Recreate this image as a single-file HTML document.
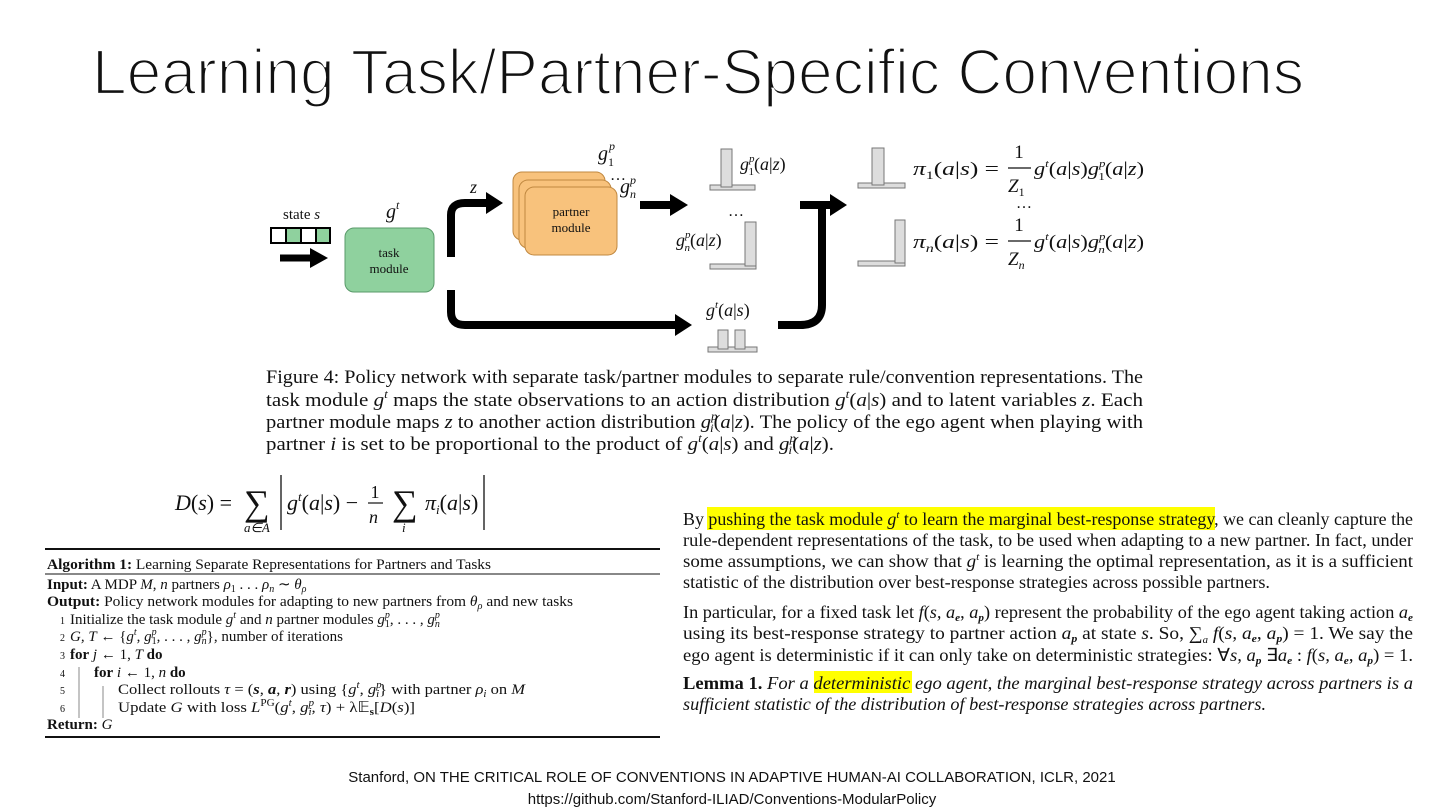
<!DOCTYPE html>
<html><head><meta charset="utf-8"><style>
html,body{margin:0;padding:0;background:#fff;}
svg{display:block}
.s{font-family:"Liberation Serif",serif;fill:#111}
.f{font-family:"Liberation Sans",sans-serif;fill:#111}
</style></head><body>
<svg width="1440" height="809" viewBox="0 0 1440 809" xmlns="http://www.w3.org/2000/svg">
<rect width="1440" height="809" fill="#fff"/>
<text x="92" y="94" class="f" font-size="64" textLength="1212" lengthAdjust="spacingAndGlyphs" fill="#000" stroke="#fff" stroke-width="2.2">Learning Task/Partner-Specific Conventions</text>

<!-- diagram -->
<text x="283" y="219" class="s" font-size="15">state <tspan font-style="italic">s</tspan></text>
<g stroke="#000" stroke-width="2">
<rect x="271" y="228" width="15" height="15" fill="#fff"/>
<rect x="286" y="228" width="15" height="15" fill="#8fd19e"/>
<rect x="301" y="228" width="15" height="15" fill="#fff"/>
<rect x="316" y="228" width="14" height="15" fill="#8fd19e"/>
</g>
<path d="M280 258 H312" stroke="#000" stroke-width="7"/>
<path d="M310 248 L328 258 L310 268 Z" fill="#000"/>
<text x="386" y="218" class="s" font-size="20" font-style="italic">g<tspan font-size="12" dy="-9">t</tspan></text>
<rect x="345" y="228" width="89" height="64" rx="9" fill="#8fd19e" stroke="#5a9a6a"/>
<text x="389" y="257" class="s" font-size="13" text-anchor="middle">task</text>
<text x="389" y="273" class="s" font-size="13" text-anchor="middle">module</text>

<path d="M451 257 V215 Q451 203 465 203 H488" fill="none" stroke="#000" stroke-width="8"/>
<path d="M486 192 L503 203 L486 214 Z" fill="#000"/>
<text x="470" y="193" class="s" font-size="18" font-style="italic">z</text>
<path d="M451 290 V312 Q451 325 465 325 H678" fill="none" stroke="#000" stroke-width="8"/>
<path d="M675 314 L692 325 L675 336 Z" fill="#000"/>

<g stroke="#c08840" stroke-width="1">
<rect x="513" y="172" width="92" height="68" rx="9" fill="#f8c27c"/>
<rect x="519" y="180" width="92" height="68" rx="9" fill="#f8c27c"/>
<rect x="525" y="187" width="92" height="68" rx="9" fill="#f8c27c"/>
</g>
<text x="571" y="216" class="s" font-size="13" text-anchor="middle">partner</text>
<text x="571" y="232" class="s" font-size="13" text-anchor="middle">module</text>
<text x="598" y="160" class="s" font-size="20" font-style="italic">g</text>
<text x="609" y="150" class="s" font-size="12" font-style="italic">p</text>
<text x="608" y="166" class="s" font-size="12">1</text>
<text x="610" y="180" class="s" font-size="16">…</text>
<text x="620" y="193" class="s" font-size="20" font-style="italic">g</text>
<text x="630" y="184" class="s" font-size="12" font-style="italic">p</text>
<text x="630" y="198" class="s" font-size="12" font-style="italic">n</text>
<path d="M640 205 H672" stroke="#000" stroke-width="8"/>
<path d="M670 194 L688 205 L670 216 Z" fill="#000"/>

<g fill="#ddd" stroke="#777" stroke-width="1">
<rect x="710" y="185" width="45" height="5"/><rect x="721" y="149" width="11" height="38"/>
<rect x="710" y="264" width="46" height="5"/><rect x="745" y="222" width="11" height="44"/>
<rect x="708" y="347" width="49" height="5"/><rect x="718" y="330" width="10" height="19"/><rect x="735" y="330" width="10" height="19"/>
<rect x="858" y="183" width="47" height="5"/><rect x="872" y="148" width="12" height="37"/>
<rect x="858" y="261" width="47" height="5"/><rect x="895" y="220" width="10" height="43"/>
</g>
<text x="740" y="170" class="s" font-size="18" font-style="italic">g<tspan font-size="11" dy="-8">p</tspan><tspan font-size="11" dy="13" dx="-6" font-style="normal">1</tspan><tspan dy="-5" font-style="normal">(</tspan>a<tspan font-style="normal">|</tspan>z<tspan font-style="normal">)</tspan></text>
<text x="728" y="216" class="s" font-size="16">…</text>
<text x="676" y="246" class="s" font-size="18" font-style="italic">g<tspan font-size="11" dy="-8">p</tspan><tspan font-size="11" dy="13" dx="-6">n</tspan><tspan dy="-5" font-style="normal">(</tspan>a<tspan font-style="normal">|</tspan>z<tspan font-style="normal">)</tspan></text>
<text x="706" y="316" class="s" font-size="18" font-style="italic">g<tspan font-size="11" dy="-8">t</tspan><tspan dy="8" font-style="normal">(</tspan>a<tspan font-style="normal">|</tspan>s<tspan font-style="normal">)</tspan></text>

<path d="M778 325 H800 Q822 325 822 305 V205" fill="none" stroke="#000" stroke-width="8"/>
<path d="M800 205 H832" stroke="#000" stroke-width="8"/>
<path d="M830 194 L847 205 L830 216 Z" fill="#000"/>

<g class="s" font-size="19">
<text x="913" y="175" textLength="86" lengthAdjust="spacingAndGlyphs"><tspan font-style="italic">π</tspan><tspan font-size="12" dy="4">1</tspan><tspan dy="-4">(</tspan><tspan font-style="italic">a</tspan>|<tspan font-style="italic">s</tspan>) =</text>
<text x="1019" y="158" text-anchor="middle">1</text>
<line x1="1008" y1="168" x2="1031" y2="168" stroke="#111" stroke-width="1.2"/>
<text x="1008" y="192" font-style="italic">Z<tspan font-size="12" dy="4" font-style="normal">1</tspan></text>
<text x="1034" y="175" textLength="110" lengthAdjust="spacingAndGlyphs"><tspan font-style="italic">g</tspan><tspan font-size="11" dy="-8" font-style="italic">t</tspan><tspan dy="8">(</tspan><tspan font-style="italic">a</tspan>|<tspan font-style="italic">s</tspan>)<tspan font-style="italic">g</tspan><tspan font-size="11" dy="-8" font-style="italic">p</tspan><tspan font-size="11" dy="13" dx="-6">1</tspan><tspan dy="-5">(</tspan><tspan font-style="italic">a</tspan>|<tspan font-style="italic">z</tspan>)</text>
<text x="1016" y="208" font-size="16">…</text>
<text x="913" y="248" textLength="86" lengthAdjust="spacingAndGlyphs"><tspan font-style="italic">π</tspan><tspan font-size="12" dy="4" font-style="italic">n</tspan><tspan dy="-4">(</tspan><tspan font-style="italic">a</tspan>|<tspan font-style="italic">s</tspan>) =</text>
<text x="1019" y="231" text-anchor="middle">1</text>
<line x1="1008" y1="241" x2="1031" y2="241" stroke="#111" stroke-width="1.2"/>
<text x="1008" y="265" font-style="italic">Z<tspan font-size="12" dy="4">n</tspan></text>
<text x="1034" y="248" textLength="110" lengthAdjust="spacingAndGlyphs"><tspan font-style="italic">g</tspan><tspan font-size="11" dy="-8" font-style="italic">t</tspan><tspan dy="8">(</tspan><tspan font-style="italic">a</tspan>|<tspan font-style="italic">s</tspan>)<tspan font-style="italic">g</tspan><tspan font-size="11" dy="-8" font-style="italic">p</tspan><tspan font-size="11" dy="13" dx="-6" font-style="italic">n</tspan><tspan dy="-5">(</tspan><tspan font-style="italic">a</tspan>|<tspan font-style="italic">z</tspan>)</text>
</g>

<!-- caption -->
<g class="s" font-size="19">
<text x="266" y="383" textLength="877" lengthAdjust="spacingAndGlyphs">Figure 4: Policy network with separate task/partner modules to separate rule/convention representations. The</text>
<text x="266" y="406" textLength="877" lengthAdjust="spacingAndGlyphs">task module <tspan font-style="italic">g<tspan font-size="12" dy="-8">t</tspan></tspan><tspan dy="8"> maps the state observations to an action distribution </tspan><tspan font-style="italic">g<tspan font-size="12" dy="-8">t</tspan></tspan><tspan dy="8">(</tspan><tspan font-style="italic">a</tspan>|<tspan font-style="italic">s</tspan>) and to latent variables <tspan font-style="italic">z</tspan>. Each</text>
<text x="266" y="428" textLength="877" lengthAdjust="spacingAndGlyphs">partner module maps <tspan font-style="italic">z</tspan> to another action distribution <tspan font-style="italic">g<tspan font-size="12" dy="-8">p</tspan><tspan font-size="12" dy="12" dx="-7">i</tspan></tspan><tspan dy="-4">(</tspan><tspan font-style="italic">a</tspan>|<tspan font-style="italic">z</tspan>). The policy of the ego agent when playing with</text>
<text x="266" y="450" textLength="568" lengthAdjust="spacingAndGlyphs">partner <tspan font-style="italic">i</tspan> is set to be proportional to the product of <tspan font-style="italic">g<tspan font-size="12" dy="-8">t</tspan></tspan><tspan dy="8">(</tspan><tspan font-style="italic">a</tspan>|<tspan font-style="italic">s</tspan>) and <tspan font-style="italic">g<tspan font-size="12" dy="-8">p</tspan><tspan font-size="12" dy="12" dx="-7">i</tspan></tspan><tspan dy="-4">(</tspan><tspan font-style="italic">a</tspan>|<tspan font-style="italic">z</tspan>).</text>
</g>

<!-- D(s) -->
<g class="s" font-size="22">
<text x="175" y="510"><tspan font-style="italic">D</tspan>(<tspan font-style="italic">s</tspan>) =</text>
<text x="244" y="515" font-size="36">∑</text>
<text x="244" y="532" font-size="13" font-style="italic">a∈A</text>
<line x1="281" y1="475" x2="281" y2="530" stroke="#111" stroke-width="1.3"/>
<text x="287" y="510"><tspan font-style="italic">g</tspan><tspan font-size="13" dy="-9" font-style="italic">t</tspan><tspan dy="9">(</tspan><tspan font-style="italic">a</tspan>|<tspan font-style="italic">s</tspan>) −</text>
<text x="375" y="498" font-size="18" text-anchor="middle">1</text>
<line x1="368" y1="503" x2="383" y2="503" stroke="#111" stroke-width="1.2"/>
<text x="369" y="523" font-size="18" font-style="italic">n</text>
<text x="392" y="515" font-size="36">∑</text>
<text x="402" y="532" font-size="13" font-style="italic">i</text>
<text x="425" y="510"><tspan font-style="italic">π</tspan><tspan font-size="13" dy="4" font-style="italic">i</tspan><tspan dy="-4">(</tspan><tspan font-style="italic">a</tspan>|<tspan font-style="italic">s</tspan>)</text>
<line x1="484" y1="475" x2="484" y2="530" stroke="#111" stroke-width="1.3"/>
</g>

<!-- algorithm -->
<line x1="45" y1="549" x2="660" y2="549" stroke="#111" stroke-width="2"/>
<line x1="45" y1="574" x2="660" y2="574" stroke="#111" stroke-width="1"/>
<line x1="45" y1="737" x2="660" y2="737" stroke="#111" stroke-width="2"/>
<line x1="79" y1="667" x2="79" y2="718" stroke="#888" stroke-width="1"/>
<line x1="103" y1="686" x2="103" y2="718" stroke="#888" stroke-width="1"/>
<g class="s" font-size="15">
<text x="47" y="569" textLength="444" lengthAdjust="spacingAndGlyphs"><tspan font-weight="bold">Algorithm 1:</tspan> Learning Separate Representations for Partners and Tasks</text>
<text x="47" y="589"><tspan font-weight="bold">Input:</tspan> A MDP <tspan font-style="italic">M</tspan>, <tspan font-style="italic">n</tspan> partners <tspan font-style="italic">ρ</tspan><tspan font-size="10" dy="3">1</tspan><tspan dy="-3"> . . . </tspan><tspan font-style="italic">ρ<tspan font-size="10" dy="3">n</tspan></tspan><tspan dy="-3"> ∼ </tspan><tspan font-style="italic">θ<tspan font-size="10" dy="3">ρ</tspan></tspan></text>
<text x="47" y="606" textLength="526" lengthAdjust="spacingAndGlyphs"><tspan font-weight="bold">Output:</tspan> Policy network modules for adapting to new partners from <tspan font-style="italic">θ</tspan><tspan font-size="10" dy="3" font-style="italic">ρ</tspan><tspan dy="-3"> and new tasks</tspan></text>
<text x="60" y="624" font-size="10">1</text><text x="70" y="624">Initialize the task module <tspan font-style="italic">g</tspan><tspan font-size="10" dy="-6" font-style="italic">t</tspan><tspan dy="6"> and </tspan><tspan font-style="italic">n</tspan> partner modules <tspan font-style="italic">g</tspan><tspan font-size="10" dy="-6" font-style="italic">p</tspan><tspan font-size="10" dy="9" dx="-5">1</tspan><tspan dy="-3">, . . . , </tspan><tspan font-style="italic">g</tspan><tspan font-size="10" dy="-6" font-style="italic">p</tspan><tspan font-size="10" dy="9" dx="-5" font-style="italic">n</tspan></text>
<text x="60" y="641" font-size="10">2</text><text x="70" y="641"><tspan font-style="italic">G, T</tspan> ← {<tspan font-style="italic">g</tspan><tspan font-size="10" dy="-6" font-style="italic">t</tspan><tspan dy="6">, </tspan><tspan font-style="italic">g</tspan><tspan font-size="10" dy="-6" font-style="italic">p</tspan><tspan font-size="10" dy="9" dx="-5">1</tspan><tspan dy="-3">, . . . , </tspan><tspan font-style="italic">g</tspan><tspan font-size="10" dy="-6" font-style="italic">p</tspan><tspan font-size="10" dy="9" dx="-5" font-style="italic">n</tspan><tspan dy="-3">}, number of iterations</tspan></text>
<text x="60" y="659" font-size="10">3</text><text x="70" y="659"><tspan font-weight="bold">for</tspan> <tspan font-style="italic">j</tspan> ← 1, <tspan font-style="italic">T</tspan> <tspan font-weight="bold">do</tspan></text>
<text x="60" y="677" font-size="10">4</text><text x="94" y="677"><tspan font-weight="bold">for</tspan> <tspan font-style="italic">i</tspan> ← 1, <tspan font-style="italic">n</tspan> <tspan font-weight="bold">do</tspan></text>
<text x="60" y="694" font-size="10">5</text><text x="118" y="694" textLength="407" lengthAdjust="spacingAndGlyphs">Collect rollouts <tspan font-style="italic">τ</tspan> = (<tspan font-weight="bold" font-style="italic">s</tspan>, <tspan font-weight="bold" font-style="italic">a</tspan>, <tspan font-weight="bold" font-style="italic">r</tspan>) using {<tspan font-style="italic">g</tspan><tspan font-size="10" dy="-6" font-style="italic">t</tspan><tspan dy="6">, </tspan><tspan font-style="italic">g</tspan><tspan font-size="10" dy="-6" font-style="italic">p</tspan><tspan font-size="10" dy="9" dx="-5" font-style="italic">i</tspan><tspan dy="-3">} with partner </tspan><tspan font-style="italic">ρ</tspan><tspan font-size="10" dy="3" font-style="italic">i</tspan><tspan dy="-3"> on </tspan><tspan font-style="italic">M</tspan></text>
<text x="60" y="712" font-size="10">6</text><text x="118" y="712" textLength="297" lengthAdjust="spacingAndGlyphs">Update <tspan font-style="italic">G</tspan> with loss <tspan font-style="italic">L</tspan><tspan font-size="10" dy="-6">PG</tspan><tspan dy="6">(</tspan><tspan font-style="italic">g</tspan><tspan font-size="10" dy="-6" font-style="italic">t</tspan><tspan dy="6">, </tspan><tspan font-style="italic">g</tspan><tspan font-size="10" dy="-6" font-style="italic">p</tspan><tspan font-size="10" dy="9" dx="-5" font-style="italic">i</tspan><tspan dy="-3">, </tspan><tspan font-style="italic">τ</tspan>) + λ𝔼<tspan font-size="10" dy="3" font-weight="bold">s</tspan><tspan dy="-3">[</tspan><tspan font-style="italic">D</tspan>(<tspan font-style="italic">s</tspan>)]</text>
<text x="47" y="729"><tspan font-weight="bold">Return:</tspan> <tspan font-style="italic">G</tspan></text>
</g>

<!-- right text -->
<rect x="707" y="507" width="508" height="23" fill="#ffff00"/>
<rect x="814" y="671" width="98" height="22" fill="#ffff00"/>
<g class="s" font-size="18">
<text x="683" y="525" textLength="730" lengthAdjust="spacingAndGlyphs">By pushing the task module <tspan font-style="italic">g</tspan><tspan font-size="11" dy="-7" font-style="italic">t</tspan><tspan dy="7"> to learn the marginal best-response strategy, we can cleanly capture the</tspan></text>
<text x="683" y="546" textLength="730" lengthAdjust="spacingAndGlyphs">rule-dependent representations of the task, to be used when adapting to a new partner. In fact, under</text>
<text x="683" y="567" textLength="730" lengthAdjust="spacingAndGlyphs">some assumptions, we can show that <tspan font-style="italic">g</tspan><tspan font-size="11" dy="-7" font-style="italic">t</tspan><tspan dy="7"> is learning the optimal representation, as it is a sufficient</tspan></text>
<text x="683" y="588" textLength="587" lengthAdjust="spacingAndGlyphs">statistic of the distribution over best-response strategies across possible partners.</text>
<text x="683" y="618" textLength="730" lengthAdjust="spacingAndGlyphs">In particular, for a fixed task let <tspan font-style="italic">f</tspan>(<tspan font-style="italic">s, a</tspan><tspan font-size="11" dy="3" font-weight="bold" font-style="italic">e</tspan><tspan dy="-3">, </tspan><tspan font-style="italic">a</tspan><tspan font-size="11" dy="3" font-weight="bold" font-style="italic">p</tspan><tspan dy="-3">) represent the probability of the ego agent taking action </tspan><tspan font-style="italic">a</tspan><tspan font-size="11" dy="3" font-weight="bold" font-style="italic">e</tspan></text>
<text x="683" y="639" textLength="730" lengthAdjust="spacingAndGlyphs">using its best-response strategy to partner action <tspan font-style="italic">a</tspan><tspan font-size="11" dy="3" font-weight="bold" font-style="italic">p</tspan><tspan dy="-3"> at state </tspan><tspan font-style="italic">s</tspan>. So, ∑<tspan font-size="10" dy="4" font-style="italic">a</tspan><tspan dy="-4"> </tspan><tspan font-style="italic">f</tspan>(<tspan font-style="italic">s, a</tspan><tspan font-size="11" dy="3" font-weight="bold" font-style="italic">e</tspan><tspan dy="-3">, </tspan><tspan font-style="italic">a</tspan><tspan font-size="11" dy="3" font-weight="bold" font-style="italic">p</tspan><tspan dy="-3">) = 1. We say the</tspan></text>
<text x="683" y="661" textLength="730" lengthAdjust="spacingAndGlyphs">ego agent is deterministic if it can only take on deterministic strategies: ∀<tspan font-style="italic">s, a</tspan><tspan font-size="11" dy="3" font-weight="bold" font-style="italic">p</tspan><tspan dy="-3"> ∃</tspan><tspan font-style="italic">a</tspan><tspan font-size="11" dy="3" font-weight="bold" font-style="italic">e</tspan><tspan dy="-3"> : </tspan><tspan font-style="italic">f</tspan>(<tspan font-style="italic">s, a</tspan><tspan font-size="11" dy="3" font-weight="bold" font-style="italic">e</tspan><tspan dy="-3">, </tspan><tspan font-style="italic">a</tspan><tspan font-size="11" dy="3" font-weight="bold" font-style="italic">p</tspan><tspan dy="-3">) = 1.</tspan></text>
<text x="683" y="689" textLength="730" lengthAdjust="spacingAndGlyphs"><tspan font-weight="bold">Lemma 1.</tspan><tspan font-style="italic">  For a deterministic ego agent, the marginal best-response strategy across partners is a</tspan></text>
<text x="683" y="710" textLength="583" lengthAdjust="spacingAndGlyphs" font-style="italic">sufficient statistic of the distribution of best-response strategies across partners.</text>
</g>

<g class="f" font-size="15" text-anchor="middle">
<text x="732" y="782">Stanford, ON THE CRITICAL ROLE OF CONVENTIONS IN ADAPTIVE HUMAN-AI COLLABORATION, ICLR, 2021</text>
<text x="732" y="804">https://github.com/Stanford-ILIAD/Conventions-ModularPolicy</text>
</g>
</svg>
</body></html>
